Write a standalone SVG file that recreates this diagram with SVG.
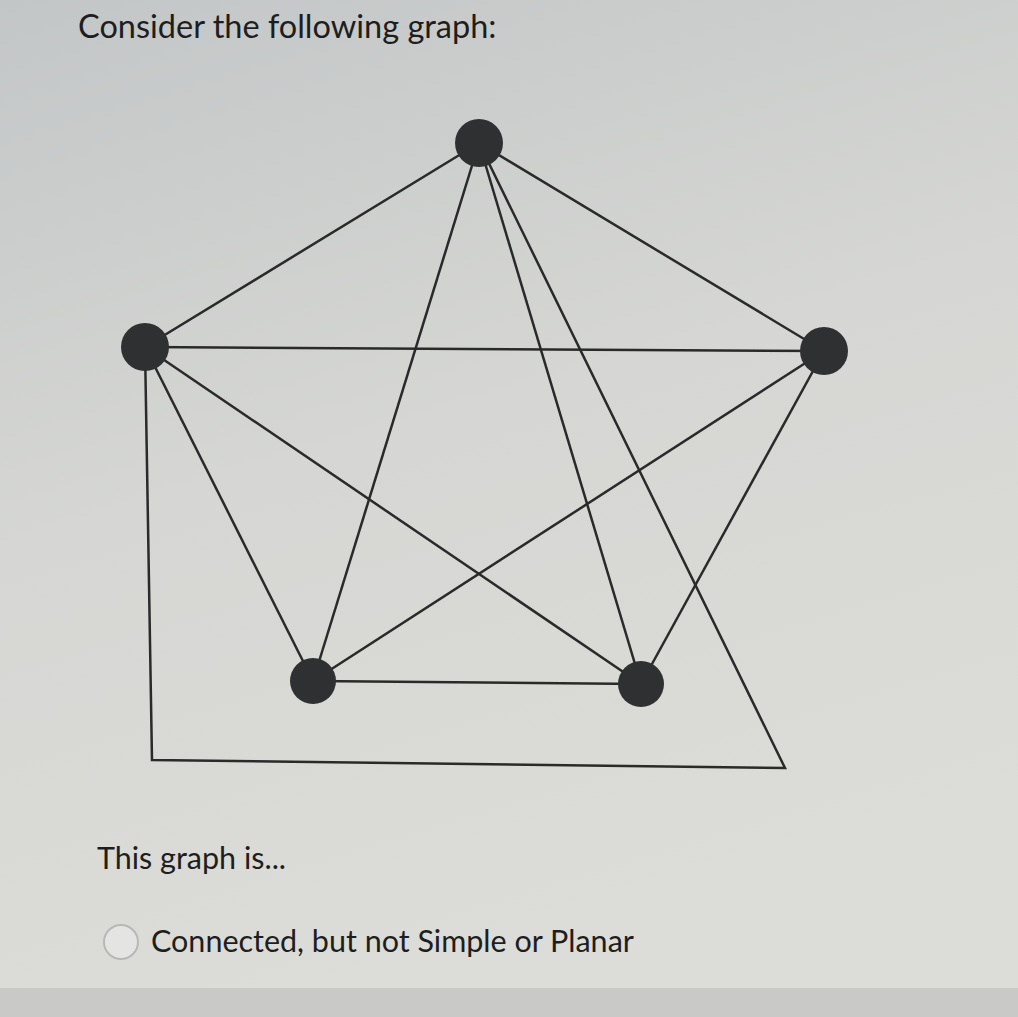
<svg xmlns="http://www.w3.org/2000/svg" width="1018" height="1017" viewBox="0 0 1018 1017">
<defs>
<linearGradient id="bg" x1="0" y1="0" x2="0.3" y2="1">
<stop offset="0" stop-color="#c3c6c7"/>
<stop offset="0.5" stop-color="#d6d7d4"/>
<stop offset="1" stop-color="#dcdcd8"/>
</linearGradient>
<style>
.e{stroke:#2a2a2a;stroke-width:2.5;fill:none}
.n{fill:#2f3032}
.t{font-family:Lato,"Liberation Sans",sans-serif;fill:#1e1e1e}
</style>
</defs>
<rect width="1018" height="1017" fill="url(#bg)"/>
<rect x="0" y="988" width="1018" height="29" fill="#c9cac8"/>
<text class="t" x="78" y="38" font-size="32.5">Consider the following graph:</text>
<g id="connectors">
<line class="e" x1="479" y1="143" x2="145" y2="347"/>
<line class="e" x1="479" y1="143" x2="824" y2="351"/>
<line class="e" x1="479" y1="143" x2="313" y2="681"/>
<line class="e" x1="479" y1="143" x2="641" y2="684"/>
<polyline class="e" points="479,143 785,768 152,760 145,347"/>
<line class="e" x1="145" y1="347" x2="824" y2="351"/>
<line class="e" x1="145" y1="347" x2="313" y2="681"/>
<line class="e" x1="145" y1="347" x2="641" y2="684"/>
<line class="e" x1="824" y1="351" x2="313" y2="681"/>
<line class="e" x1="824" y1="351" x2="641" y2="684"/>
<line class="e" x1="313" y1="681" x2="641" y2="684"/>
</g>
<g id="n1"><circle class="n" cx="479" cy="143" r="24"/></g>
<g id="n2"><circle class="n" cx="145" cy="347" r="24"/></g>
<g id="n3"><circle class="n" cx="824" cy="351" r="24"/></g>
<g id="n4"><circle class="n" cx="313" cy="681" r="23"/></g>
<g id="n5"><circle class="n" cx="641" cy="684" r="23"/></g>
<text class="t" x="97" y="869" font-size="30.5">This graph is...</text>
<circle cx="121" cy="942" r="17" fill="#e4e4e2" stroke="#b8b8b6" stroke-width="2"/>
<text class="t" x="151" y="952" font-size="30.5">Connected, but not Simple or Planar</text>
</svg>
